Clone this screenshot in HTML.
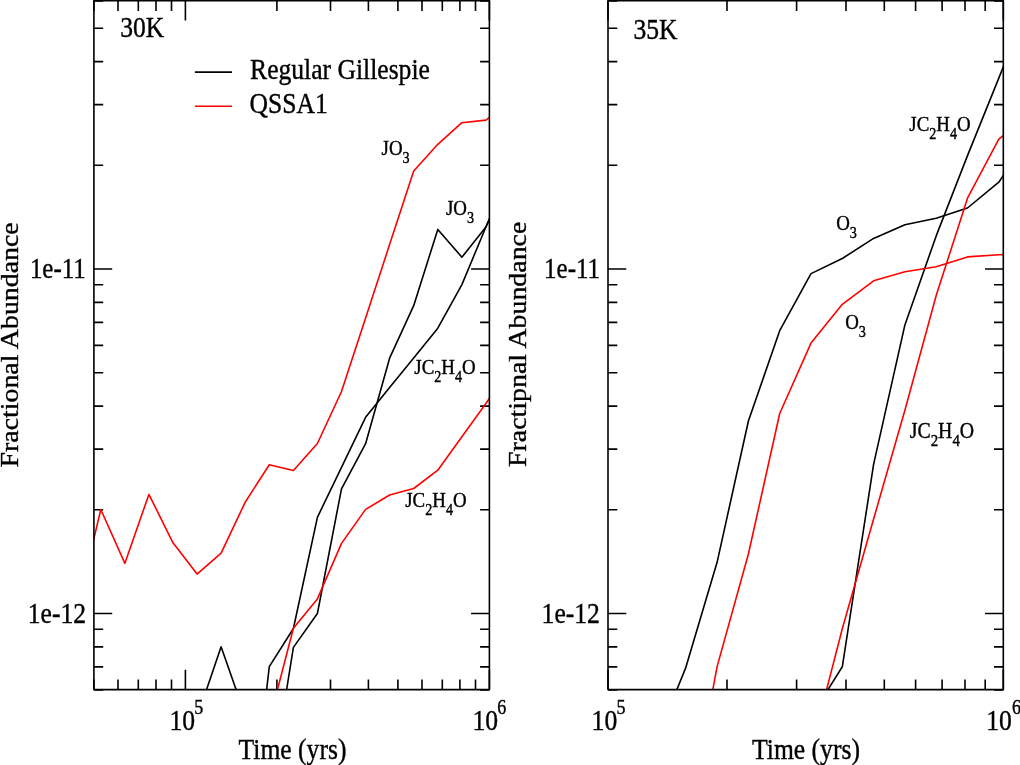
<!DOCTYPE html>
<html><head><meta charset="utf-8"><title>Fractional Abundance vs Time</title>
<style>html,body{margin:0;padding:0;background:#fff;}svg{display:block;}</style>
</head><body>
<svg width="1020" height="765" viewBox="0 0 1020 765" font-family="'Liberation Serif', 'Times New Roman', serif">
<rect width="100%" height="100%" fill="#fff"/>
<style>text{stroke:#000;stroke-width:0.35px;paint-order:stroke;}</style>
<defs>
<clipPath id="cL"><rect x="93.9" y="0.7" width="395.5" height="688.9"/></clipPath>
<clipPath id="cR"><rect x="608.0" y="0.7" width="395.3" height="688.9"/></clipPath>
</defs>
<path d="M93.9 689.6L93.9 679.4M93.9 0.7L93.9 10.9M118.0 689.6L118.0 679.4M118.0 0.7L118.0 10.9M138.3 689.6L138.3 679.4M138.3 0.7L138.3 10.9M156.0 689.6L156.0 679.4M156.0 0.7L156.0 10.9M171.5 689.6L171.5 679.4M171.5 0.7L171.5 10.9M185.4 689.6L185.4 669.8M185.4 0.7L185.4 20.5M276.9 689.6L276.9 679.4M276.9 0.7L276.9 10.9M330.5 689.6L330.5 679.4M330.5 0.7L330.5 10.9M368.4 689.6L368.4 679.4M368.4 0.7L368.4 10.9M397.9 689.6L397.9 679.4M397.9 0.7L397.9 10.9M422.0 689.6L422.0 679.4M422.0 0.7L422.0 10.9M442.3 689.6L442.3 679.4M442.3 0.7L442.3 10.9M459.9 689.6L459.9 679.4M459.9 0.7L459.9 10.9M475.5 689.6L475.5 679.4M475.5 0.7L475.5 10.9M489.4 689.6L489.4 669.8M489.4 0.7L489.4 20.5M93.9 689.9L103.2 689.9M489.4 689.9L480.1 689.9M93.9 666.9L103.2 666.9M489.4 666.9L480.1 666.9M93.9 646.9L103.2 646.9M489.4 646.9L480.1 646.9M93.9 629.3L103.2 629.3M489.4 629.3L480.1 629.3M93.9 613.5L112.2 613.5M489.4 613.5L471.1 613.5M93.9 509.8L103.2 509.8M489.4 509.8L480.1 509.8M93.9 449.1L103.2 449.1M489.4 449.1L480.1 449.1M93.9 406.1L103.2 406.1M489.4 406.1L480.1 406.1M93.9 372.7L103.2 372.7M489.4 372.7L480.1 372.7M93.9 345.4L103.2 345.4M489.4 345.4L480.1 345.4M93.9 322.4L103.2 322.4M489.4 322.4L480.1 322.4M93.9 302.4L103.2 302.4M489.4 302.4L480.1 302.4M93.9 284.8L103.2 284.8M489.4 284.8L480.1 284.8M93.9 269.0L112.2 269.0M489.4 269.0L471.1 269.0M93.9 165.3L103.2 165.3M489.4 165.3L480.1 165.3M93.9 104.6L103.2 104.6M489.4 104.6L480.1 104.6M93.9 61.6L103.2 61.6M489.4 61.6L480.1 61.6M93.9 28.2L103.2 28.2M489.4 28.2L480.1 28.2M93.9 0.9L103.2 0.9M489.4 0.9L480.1 0.9" stroke="#000" stroke-width="1.6" fill="none"/>
<path d="M608.0 689.6L608.0 669.8M608.0 0.7L608.0 20.5M727.0 689.6L727.0 679.4M727.0 0.7L727.0 10.9M796.6 689.6L796.6 679.4M796.6 0.7L796.6 10.9M846.0 689.6L846.0 679.4M846.0 0.7L846.0 10.9M884.3 689.6L884.3 679.4M884.3 0.7L884.3 10.9M915.6 689.6L915.6 679.4M915.6 0.7L915.6 10.9M942.1 689.6L942.1 679.4M942.1 0.7L942.1 10.9M965.0 689.6L965.0 679.4M965.0 0.7L965.0 10.9M985.2 689.6L985.2 679.4M985.2 0.7L985.2 10.9M1003.3 689.6L1003.3 669.8M1003.3 0.7L1003.3 20.5M608.0 689.9L617.3 689.9M1003.3 689.9L994.0 689.9M608.0 666.9L617.3 666.9M1003.3 666.9L994.0 666.9M608.0 646.9L617.3 646.9M1003.3 646.9L994.0 646.9M608.0 629.3L617.3 629.3M1003.3 629.3L994.0 629.3M608.0 613.5L626.3 613.5M1003.3 613.5L985.0 613.5M608.0 509.8L617.3 509.8M1003.3 509.8L994.0 509.8M608.0 449.1L617.3 449.1M1003.3 449.1L994.0 449.1M608.0 406.1L617.3 406.1M1003.3 406.1L994.0 406.1M608.0 372.7L617.3 372.7M1003.3 372.7L994.0 372.7M608.0 345.4L617.3 345.4M1003.3 345.4L994.0 345.4M608.0 322.4L617.3 322.4M1003.3 322.4L994.0 322.4M608.0 302.4L617.3 302.4M1003.3 302.4L994.0 302.4M608.0 284.8L617.3 284.8M1003.3 284.8L994.0 284.8M608.0 269.0L626.3 269.0M1003.3 269.0L985.0 269.0M608.0 165.3L617.3 165.3M1003.3 165.3L994.0 165.3M608.0 104.6L617.3 104.6M1003.3 104.6L994.0 104.6M608.0 61.6L617.3 61.6M1003.3 61.6L994.0 61.6M608.0 28.2L617.3 28.2M1003.3 28.2L994.0 28.2M608.0 0.9L617.3 0.9M1003.3 0.9L994.0 0.9" stroke="#000" stroke-width="1.6" fill="none"/>
<polyline points="197.1,717.6 221.1,646.7 245.2,715.6" fill="none" stroke="#000" stroke-width="1.6" stroke-linejoin="round" clip-path="url(#cL)"/>
<polyline points="245.2,875.0 269.3,666.6 293.4,628.5 317.4,517.3 341.5,467.3 365.6,417.3 389.6,387.6 413.7,357.9 437.8,328.2 461.9,284.6 485.9,227.0 510.0,172.0" fill="none" stroke="#000" stroke-width="1.6" stroke-linejoin="round" clip-path="url(#cL)"/>
<polyline points="269.3,797.6 293.4,647.4 317.4,613.5 341.5,488.8 365.6,443.7 389.6,358.2 413.7,305.7 437.8,229.4 461.9,257.2 485.9,227.0 510.0,172.0" fill="none" stroke="#000" stroke-width="1.6" stroke-linejoin="round" clip-path="url(#cL)"/>
<polyline points="76.7,611.0 100.8,509.5 124.9,563.3 148.9,494.4 173.0,542.8 197.1,574.1 221.1,553.1 245.2,502.2 269.3,464.7 293.4,470.5 317.4,443.5 341.5,391.5 365.6,318.1 389.6,244.5 413.7,171.0 437.8,144.3 461.9,122.7 485.9,120.1 510.0,102.3" fill="none" stroke="#f00" stroke-width="1.6" stroke-linejoin="round" clip-path="url(#cL)"/>
<polyline points="269.3,721.0 293.4,628.3 317.4,598.9 341.5,543.4 365.6,509.4 389.6,495.0 413.7,488.5 437.8,470.2 461.9,436.8 485.9,403.5 510.0,368.0" fill="none" stroke="#f00" stroke-width="1.6" stroke-linejoin="round" clip-path="url(#cL)"/>
<polyline points="654.5,744.8 685.8,667.6 717.1,562.3 748.4,421.0 779.7,330.7 811.0,273.6 842.3,258.5 873.6,238.4 904.9,224.8 936.2,218.3 967.5,208.0 998.8,182.2 1030.1,136.0" fill="none" stroke="#000" stroke-width="1.6" stroke-linejoin="round" clip-path="url(#cR)"/>
<polyline points="811.0,716.7 842.3,666.8 873.6,464.4 904.9,324.9 936.2,235.9 967.5,155.6 998.8,78.1 1030.1,0.0" fill="none" stroke="#000" stroke-width="1.6" stroke-linejoin="round" clip-path="url(#cR)"/>
<polyline points="685.8,835.0 717.1,666.6 748.4,554.0 779.7,413.5 811.0,343.1 842.3,304.3 873.6,280.8 904.9,271.7 936.2,266.8 967.5,256.9 998.8,254.7 1030.1,254.0" fill="none" stroke="#f00" stroke-width="1.6" stroke-linejoin="round" clip-path="url(#cR)"/>
<polyline points="811.0,750.0 842.3,628.8 873.6,519.0 904.9,410.2 936.2,295.5 967.5,198.2 998.8,139.2 1030.1,114.0" fill="none" stroke="#f00" stroke-width="1.6" stroke-linejoin="round" clip-path="url(#cR)"/>
<rect x="93.9" y="0.7" width="395.5" height="688.9" fill="none" stroke="#000" stroke-width="1.6" stroke-linejoin="round"/>
<rect x="608.0" y="0.7" width="395.3" height="688.9" fill="none" stroke="#000" stroke-width="1.6" stroke-linejoin="round"/>
<path d="M194.9 72.1H232" stroke="#000" stroke-width="1.6"/>
<path d="M194.9 106.2H232" stroke="#f00" stroke-width="1.6"/>
<text transform="translate(250.1,78.8) scale(1,1.14)" font-size="25.6">Regular Gillespie</text>
<text transform="translate(249.6,113.4) scale(1,1.14)" font-size="25.6">QSSA1</text>
<text transform="translate(120.2,36.6) scale(1,1.14)" font-size="25.6">30K</text>
<text transform="translate(633.5,39.0) scale(1,1.14)" font-size="25.6">35K</text>
<text transform="translate(29.9,277.9) scale(0.975,1.14)" font-size="25.6">1e-11</text>
<text transform="translate(27.8,622.5) scale(1,1.14)" font-size="25.6">1e-12</text>
<text transform="translate(544.1,277.9) scale(0.975,1.14)" font-size="25.6">1e-11</text>
<text transform="translate(541.6,622.5) scale(1,1.14)" font-size="25.6">1e-12</text>
<text transform="translate(169.5,729.5) scale(1,1.14)" font-size="25.6">10</text>
<text transform="translate(194.2,713.5) scale(1,1.14)" font-size="18.0">5</text>
<text transform="translate(472.4,729.5) scale(1,1.14)" font-size="25.6">10</text>
<text transform="translate(497.3,714.0) scale(1,1.14)" font-size="18.0">6</text>
<text transform="translate(591.6,729.5) scale(1,1.14)" font-size="25.6">10</text>
<text transform="translate(616.6,713.5) scale(1,1.14)" font-size="18.0">5</text>
<text transform="translate(986.3,729.5) scale(1,1.14)" font-size="25.6">10</text>
<text transform="translate(1012.1,714.0) scale(1,1.14)" font-size="18.0">6</text>
<text transform="translate(238.6,759.0) scale(1,1.14)" font-size="25.6">Time (yrs)</text>
<text transform="translate(752.1,759.0) scale(1,1.14)" font-size="25.6">Time (yrs)</text>
<text transform="translate(17.7,467.5) scale(1,1.088) rotate(-90)" font-size="25.6">Fractional Abundance</text>
<text transform="translate(525.9,466.9) scale(1,1.088) rotate(-90)" font-size="25.6">Fractipnal Abundance</text>
<text transform="translate(381.6,154.5) scale(1,1.14)" font-size="18.90"><tspan dy="0.00">JO</tspan><tspan font-size="14.20" dy="7.30">3</tspan></text>
<text transform="translate(446.0,214.9) scale(1,1.14)" font-size="18.90"><tspan dy="0.00">JO</tspan><tspan font-size="14.20" dy="7.30">3</tspan></text>
<text transform="translate(414.3,374.0) scale(1,1.14)" font-size="18.90"><tspan dy="0.00">JC</tspan><tspan font-size="14.20" dy="7.30">2</tspan><tspan dy="-7.30">H</tspan><tspan font-size="14.20" dy="7.30">4</tspan><tspan dy="-7.30">O</tspan></text>
<text transform="translate(405.2,507.0) scale(1,1.14)" font-size="18.90"><tspan dy="0.00">JC</tspan><tspan font-size="14.20" dy="7.30">2</tspan><tspan dy="-7.30">H</tspan><tspan font-size="14.20" dy="7.30">4</tspan><tspan dy="-7.30">O</tspan></text>
<text transform="translate(909.3,130.6) scale(1,1.14)" font-size="18.90"><tspan dy="0.00">JC</tspan><tspan font-size="14.20" dy="7.30">2</tspan><tspan dy="-7.30">H</tspan><tspan font-size="14.20" dy="7.30">4</tspan><tspan dy="-7.30">O</tspan></text>
<text transform="translate(909.7,437.6) scale(1,1.14)" font-size="19.84"><tspan dy="0.00">JC</tspan><tspan font-size="14.91" dy="7.67">2</tspan><tspan dy="-7.67">H</tspan><tspan font-size="14.91" dy="7.67">4</tspan><tspan dy="-7.67">O</tspan></text>
<text transform="translate(836.2,229.5) scale(1,1.14)" font-size="18.90"><tspan dy="0.00">O</tspan><tspan font-size="14.20" dy="7.30">3</tspan></text>
<text transform="translate(845.2,328.5) scale(1,1.14)" font-size="18.90"><tspan dy="0.00">O</tspan><tspan font-size="14.20" dy="7.30">3</tspan></text>
</svg>
</body></html>
